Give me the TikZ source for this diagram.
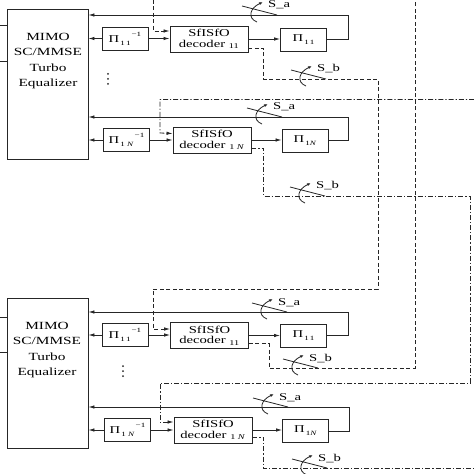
\documentclass[tikz,border=0pt]{standalone}
\usepackage{fontspec}
\setmainfont{Liberation Serif}[FakeStretch=1.4]
\usetikzlibrary{arrows.meta}

\newcommand{\piinv}[1]{Π\raisebox{-3bp}{\fontsize{6.5}{6.5}\selectfont\,#1}\raisebox{6bp}{\fontsize{6.5}{6.5}\selectfont\,−1}}
\newcommand{\pisub}[1]{Π\raisebox{-3bp}{\fontsize{6.5}{6.5}\selectfont\,#1}}
\newcommand{\switchsym}[4]{%
  \begin{scope}[shift={(#1,#2)}]
    \draw[wire] (-35,-9) -- (0,0);
    \draw[wire,-{Latex[length=4bp,width=3bp]}] (-20,7) .. controls (-30,3) and (-27,-7) .. (-14,-13);
    \node[swlabel] (#4) at (-9,-7) {S\_#3};
  \end{scope}}
\newcommand{\vdotsym}[2]{%
  \foreach \k in {-5,0,5} \fill[black!85] (#1,#2+\k) circle (1bp);}

\begin{document}
\begin{tikzpicture}[x=1bp,y=-1bp,
    >={Latex[length=6bp,width=3.5bp]},
    every node/.style={font=\fontsize{10.5}{10.5}\selectfont},
    box/.style={draw=black!85, line width=.9bp, inner sep=0pt},
    eqbox/.style={box, minimum width=81bp, minimum height=150bp},
    pibox/.style={box, minimum width=46bp, minimum height=23bp},
    decbox/.style={box, minimum width=78bp, minimum height=26bp, align=center},
    eqtext/.style={align=center, font=\fontsize{11}{15.5}\selectfont},
    wire/.style={draw=black!85, line width=.8bp},
    dashwire/.style={wire, dash pattern=on 4bp off 2.5bp},
    dotwire/.style={wire, dash pattern=on 5bp off 2bp on 1.2bp off 2bp},
    swlabel/.style={anchor=base west, inner sep=0pt}]
    \fill[white] (0,0) rectangle (474,474);
    \useasboundingbox (0,0) rectangle (474,474);

    % upper equalizer
    \node[eqbox] (eqA) at (47.5,84) {};
    \node[eqtext] (eqAtxt) at (48,61) {MIMO\\SC/MMSE\\Turbo\\Equalizer};
    \node[pibox] (dinvA1) at (125,38.5) {\piinv{1\,1}};
    \node[decbox] (decA1) at (209,39) {SfISfO\\decoder \textsubscript{11}};
    \node[pibox] (intA1) at (303.5,39.5) {\pisub{1\,1}};
    \vdotsym{108}{79}
    \node[pibox] (dinvAN) at (126.5,140) {\piinv{1 \textit{N}}};
    \node[decbox] (decAN) at (212,140) {SfISfO\\decoder \textsubscript{1 \textit{N}}};
    \node[pibox] (intAN) at (305,140.5) {\pisub{1\textit{N}}};

    % lower equalizer
    \node[eqbox] (eqB) at (47.5,373.5) {};
    \node[eqtext] (eqBtxt) at (47,350) {MIMO\\SC/MMSE\\Turbo\\Equalizer};
    \node[pibox] (dinvB1) at (125,335) {\piinv{1\,1}};
    \node[decbox] (decB1) at (209.5,335.5) {SfISfO\\decoder \textsubscript{11}};
    \node[pibox] (intB1) at (303.5,335.5) {\pisub{1\,1}};
    \vdotsym{123}{371}
    \node[pibox] (dinvBN) at (127.5,430) {\piinv{1 \textit{N}}};
    \node[decbox] (decBN) at (213,430) {SfISfO\\decoder \textsubscript{1 \textit{N}}};
    \node[pibox] (intBN) at (305.5,431) {\pisub{1\textit{N}}};

    % inputs
    \coordinate (inA1) at (0,25);
    \coordinate (inA2) at (0,61);
    \coordinate (inB1) at (0,317);
    \coordinate (inB2) at (0,352);
    \draw[wire] (inA1) -- (inA1 -| eqA.west);
    \draw[wire] (inA2) -- (inA2 -| eqA.west);
    \draw[wire] (inB1) -- (inB1 -| eqB.west);
    \draw[wire] (inB2) -- (inB2 -| eqB.west);

    % forward paths
    \draw[wire,->] (dinvA1.west) -- (dinvA1.west -| eqA.east);
    \draw[wire,->] (dinvA1.east) -- (dinvA1.east -| decA1.west);
    \draw[wire,->] (decA1.east) -- (decA1.east -| intA1.west);
    \draw[wire,->] (dinvAN.west) -- (dinvAN.west -| eqA.east);
    \draw[wire,->] (dinvAN.east) -- (dinvAN.east -| decAN.west);
    \draw[wire,->] (decAN.east) -- (decAN.east -| intAN.west);
    \draw[wire,->] (dinvB1.west) -- (dinvB1.west -| eqB.east);
    \draw[wire,->] (dinvB1.east) -- (dinvB1.east -| decB1.west);
    \draw[wire,->] (decB1.east) -- (decB1.east -| intB1.west);
    \draw[wire,->] (dinvBN.west) -- (dinvBN.west -| eqB.east);
    \draw[wire,->] (dinvBN.east) -- (dinvBN.east -| decBN.west);
    \draw[wire,->] (decBN.east) -- (decBN.east -| intBN.west);

    % feedback to the equalizers
    \coordinate (fbA1) at (348,15);
    \coordinate (fbAN) at (348,117);
    \coordinate (fbB1) at (348,312);
    \coordinate (fbBN) at (349,407);
    \draw[wire,->] (intA1.east) -| (fbA1) -- (fbA1 -| eqA.east);
    \draw[wire,->] (intAN.east) -| (fbAN) -- (fbAN -| eqA.east);
    \draw[wire,->] (intB1.east) -| (fbB1) -- (fbB1 -| eqB.east);
    \draw[wire,->] (intBN.east) -| (fbBN) -- (fbBN -| eqB.east);

    % exchange between the two equalizers
    \coordinate (topA) at (153,0);
    \coordinate (topB) at (415,0);
    \coordinate (rightA) at (474,99.5);
    \coordinate (rightB) at (474,468);
    \draw[dashwire,->] (topA) |- ([yshift=8bp]decA1.west);
    \draw[dashwire,->] ([yshift=-9bp]decA1.east) -- ++(15,0) |- (378,79) |- (153,289) |- ([yshift=6.5bp]decB1.west);
    \draw[dashwire] ([yshift=-8bp]decB1.east) -- ++(20,0) |- (415,368) -- (topB);
    \draw[dotwire,->] (rightA) -| (160,133) -- ([yshift=6.5bp]decAN.west);
    \draw[dotwire,->] ([yshift=-8bp]decAN.east) -- ++(12,0) |- (470,196) |- (160,383) |- ([yshift=8bp]decBN.west);
    \draw[dotwire] ([yshift=-7bp]decBN.east) -- ++(11,0) |- (rightB);

    % switches
    \switchsym{277}{15}{a}{swA1a}
    \switchsym{282}{117}{a}{swANa}
    \switchsym{326}{79}{b}{swA1b}
    \switchsym{325}{196}{b}{swANb}
    \switchsym{287}{312}{a}{swB1a}
    \switchsym{318}{368}{b}{swB1b}
    \switchsym{288}{407}{a}{swBNa}
    \switchsym{327}{468}{b}{swBNb}
\end{tikzpicture}
\end{document}
